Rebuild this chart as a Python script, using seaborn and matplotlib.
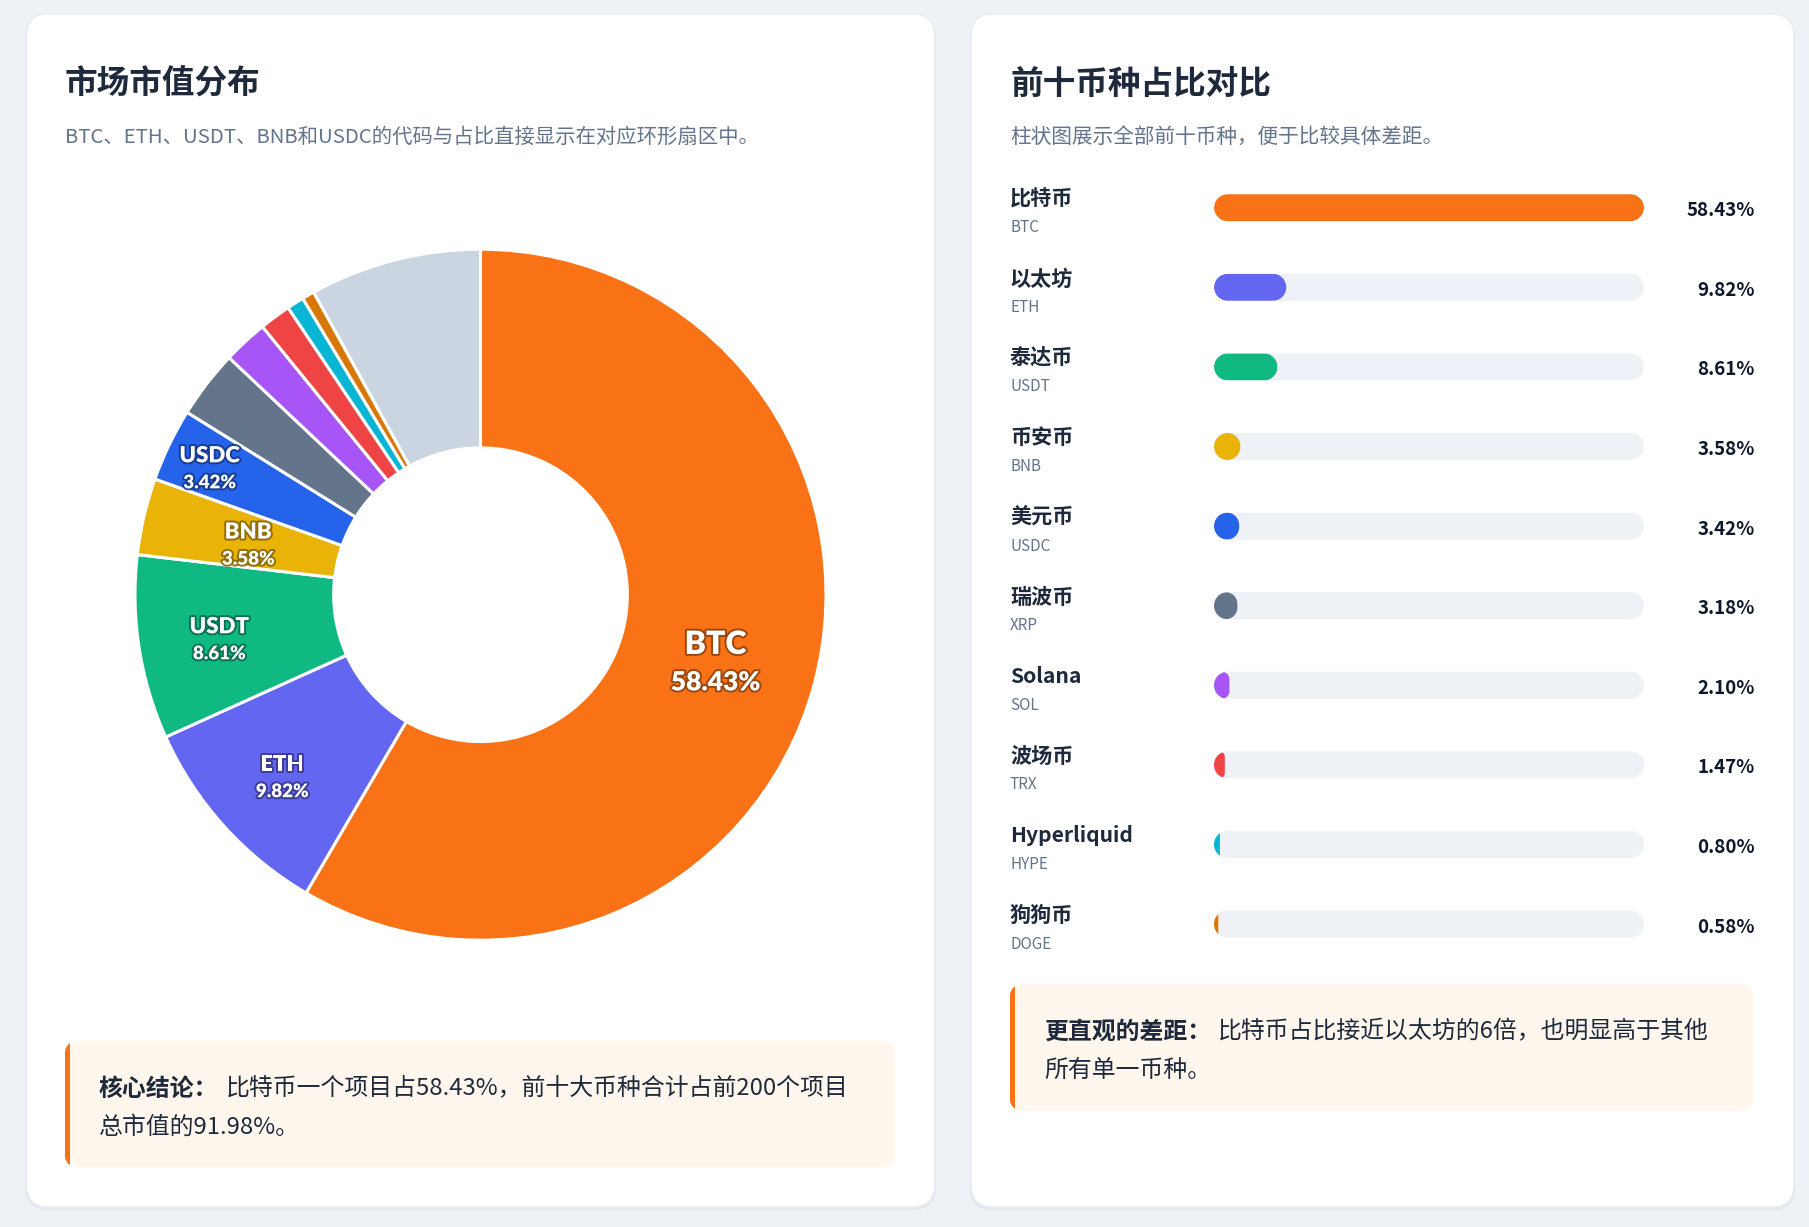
import numpy as np
import pandas as pd
import matplotlib
matplotlib.use("Agg")
import matplotlib.pyplot as plt
import seaborn as sns
from matplotlib.patches import FancyBboxPatch, Polygon, Rectangle
import matplotlib.patheffects as pe

# ---------------- data ----------------
names_cn = ["比特币", "以太坊", "泰达币", "币安币", "美元币", "瑞波币", "Solana", "波场币", "Hyperliquid", "狗狗币"]
codes = ["BTC", "ETH", "USDT", "BNB", "USDC", "XRP", "SOL", "TRX", "HYPE", "DOGE"]
shares = [58.43, 9.82, 8.61, 3.58, 3.42, 3.18, 2.10, 1.47, 0.80, 0.58]
top10_total = 91.98
other_code = "其他"
other_share = round(100 - top10_total, 2)
donut_labeled = ["BTC", "ETH", "USDT", "BNB", "USDC"]

colors = ["#f97316", "#6366f1", "#10b981", "#eab308", "#2563eb",
          "#64748b", "#a855f7", "#ef4444", "#06b6d4", "#d97706"]
other_color = "#cbd5e1"

left_title = "市场市值分布"
left_sub = "BTC、ETH、USDT、BNB和USDC的代码与占比直接显示在对应环形扇区中。"
right_title = "前十币种占比对比"
right_sub = "柱状图展示全部前十币种，便于比较具体差距。"
left_note = [[("核心结论：", "bold"), ("比特币一个项目占58.43%，前十大币种合计占前200个项目", "normal")],
             [("总市值的91.98%。", "normal")]]
right_note = [[("更直观的差距：", "bold"), ("比特币占比接近以太坊的6倍，也明显高于其他", "normal")],
              [("所有单一币种。", "normal")]]

# ---------------- style ----------------
sns.set_style("white")
plt.rcParams['font.family'] = ['Noto Sans CJK SC', 'DejaVu Sans']
LABEL_FONT = ['Lato', 'Open Sans', 'DejaVu Sans']

W, H = 1809, 1227
BG = "#eef1f6"
TITLE_C = "#1e293b"
SUB_C = "#64748b"
TRACK_C = "#eef2f7"

fig = plt.figure(figsize=(W / 100, H / 100), dpi=100, facecolor=BG)

def frac(x0, y0, x1, y1):
    return [x0 / W, 1 - y1 / H, (x1 - x0) / W, (y1 - y0) / H]

ax_bg = fig.add_axes([0, 0, 1, 1], zorder=0)
ax_bg.set_xlim(0, W)
ax_bg.set_ylim(H, 0)
ax_bg.axis("off")

def rbox(ax, x0, y0, x1, y1, r, fc, ec="none", lw=0, z=1):
    p = FancyBboxPatch((x0, y0), x1 - x0, y1 - y0,
                       boxstyle=f"round,pad=0,rounding_size={r}",
                       fc=fc, ec=ec, lw=lw, zorder=z)
    ax.add_patch(p)
    return p

# cards (with soft shadow)
for (x0, x1) in [(26.5, 934.5), (971, 1794)]:
    rbox(ax_bg, x0 - 1, 14 + 1, x1 + 1, 1207 + 3, 22, "#e3e8ef", z=0.5)
    rbox(ax_bg, x0, 14, x1, 1207, 22, "white", ec="#e6eaf0", lw=0.8, z=1)

# titles
ax_bg.text(65, 84, left_title, fontsize=23.5, fontweight="bold", color=TITLE_C, va="center", ha="left", zorder=3)
ax_bg.text(65, 137, left_sub, fontsize=14.7, color=SUB_C, va="center", ha="left", zorder=3)
ax_bg.text(1010, 84, right_title, fontsize=23.5, fontweight="bold", color=TITLE_C, va="center", ha="left", zorder=3)
ax_bg.text(1010, 137, right_sub, fontsize=14.9, color=SUB_C, va="center", ha="left", zorder=3)

renderer = fig.canvas.get_renderer()

def callout(x0, y0, x1, y1, tx, lines_y, lines):
    box = rbox(ax_bg, x0, y0, x1, y1, 15, "#fff7ed", z=2)
    bar = Rectangle((x0, y0), 5, y1 - y0, fc="#f97316", ec="none", zorder=2.5)
    ax_bg.add_patch(bar)
    bar.set_clip_path(box)
    for ly, parts in zip(lines_y, lines):
        x = tx
        for txt, wt in parts:
            t = ax_bg.text(x, ly, txt, fontsize=17.2, fontweight=wt, color=TITLE_C,
                           va="center", ha="left", zorder=3)
            bb = t.get_window_extent(renderer=renderer)
            x += bb.width + (7 if wt == "bold" else 0)

callout(64.6, 1040.7, 895, 1167.6, 99, [1089, 1127], left_note)
callout(1009.5, 984, 1753.6, 1111, 1044, [1032, 1070], right_note)

# ---------------- donut ----------------
cx, cy, R = 480.5, 594.7, 345.5
ax_pie = fig.add_axes(frac(cx - R, cy - R, cx + R, cy + R), zorder=2)
vals = shares + [other_share]
cols = colors + [other_color]
wedges, _ = ax_pie.pie(vals, colors=cols, startangle=90, counterclock=False, radius=1,
                       wedgeprops=dict(width=0.575, edgecolor="white", linewidth=2.2))
for w_ in wedges:
    w_.set_clip_on(False)
ax_pie.set_xlim(-1, 1)
ax_pie.set_ylim(-1, 1)
ax_pie.set_aspect("equal")
ax_pie.axis("off")

label_r = {"BTC": 0.705, "ETH": 0.772, "USDT": 0.765, "BNB": 0.69, "USDC": 0.87}
label_fs = {"BTC": (23, 19, 19.0), "ETH": (16, 13.5, 13.5), "USDT": (16, 13.5, 13.5),
            "BNB": (16, 13.5, 13.5), "USDC": (16, 13.5, 13.5)}
shift_px = -5

def darker(c, f=0.55):
    rgb = np.array(matplotlib.colors.to_rgb(c)) * f
    return tuple(rgb) + (0.85,)

for code in donut_labeled:
    i = codes.index(code)
    wdg = wedges[i]
    mid = np.deg2rad((wdg.theta1 + wdg.theta2) / 2)
    r = label_r[code]
    x, y = r * np.cos(mid), r * np.sin(mid)
    fs1, fs2, off = label_fs[code]
    eff = [pe.withStroke(linewidth=2.8, foreground=darker(colors[i]))]
    ax_pie.annotate(code, xy=(x, y), xytext=(0, (off + shift_px) * 0.72), textcoords="offset points",
                    ha="center", va="center", fontsize=fs1, fontweight="heavy", color="white",
                    family=LABEL_FONT, path_effects=eff, zorder=5)
    ax_pie.annotate(f"{shares[i]:.2f}%", xy=(x, y), xytext=(0, (-off + shift_px) * 0.72),
                    textcoords="offset points",
                    ha="center", va="center", fontsize=fs2, fontweight="heavy", color="white",
                    family=LABEL_FONT, path_effects=eff, zorder=5)

# ---------------- bars ----------------
row0, row_step = 207.7, 79.6
n = len(codes)
ax_bar = fig.add_axes(frac(1214, row0 - row_step / 2, 1644, row0 + row_step * (n - 0.5)), zorder=2)
df = pd.DataFrame({"code": codes, "share": shares, "track": [max(shares)] * n})
sns.barplot(data=df, y="code", x="track", color=TRACK_C, width=0.34, errorbar=None,
            saturation=1, ax=ax_bar)
sns.barplot(data=df, y="code", x="share", hue="code", palette=colors, width=0.34,
            errorbar=None, legend=False, saturation=1, ax=ax_bar)
ax_bar.set_xlim(0, max(shares))
ax_bar.set_ylim(n - 0.5, -0.5)
ax_bar.axis("off")

fig.canvas.draw()
bb = ax_bar.get_window_extent()
sx = bb.width / max(shares)
sy = bb.height / n

def rounded_poly(x0, yc, w, h):
    r_px = min(h * sy / 2, w * sx / 2)
    rx, ry = r_px / sx, r_px / sy
    y0, y1 = yc - h / 2, yc + h / 2
    x1 = x0 + w
    pts = []
    t = np.linspace(0, np.pi / 2, 16)
    for (ccx, ccy, a0) in [(x1 - rx, y1 - ry, 0), (x0 + rx, y1 - ry, np.pi / 2),
                           (x0 + rx, y0 + ry, np.pi), (x1 - rx, y0 + ry, 1.5 * np.pi)]:
        a = a0 + t
        pts.extend(zip(ccx + rx * np.cos(a), ccy + ry * np.sin(a)))
    return np.array(pts)

patches = list(ax_bar.patches)
tracks, fills = patches[:n], patches[n:2 * n]
for tp, fp in zip(tracks, fills):
    yc = tp.get_y() + tp.get_height() / 2
    h = abs(tp.get_height())
    tpoly = Polygon(rounded_poly(tp.get_x(), yc, tp.get_width(), h), closed=True,
                    fc=tp.get_facecolor(), ec="none", zorder=3)
    ax_bar.add_patch(tpoly)
    fpoly = Polygon(rounded_poly(fp.get_x(), yc, fp.get_width(), h), closed=True,
                    fc=fp.get_facecolor(), ec="none", zorder=4)
    ax_bar.add_patch(fpoly)
    fpoly.set_clip_path(tpoly)
    tp.set_visible(False)
    fp.set_visible(False)

for i in range(n):
    ax_bar.annotate(names_cn[i], xy=(1010, i), xycoords=("figure pixels", "data"),
                    xytext=(0, 8.5 * 0.72), textcoords="offset points", ha="left", va="center",
                    fontsize=15.2, fontweight="bold", color=TITLE_C, annotation_clip=False)
    ax_bar.annotate(codes[i], xy=(1010, i), xycoords=("figure pixels", "data"),
                    xytext=(0, -20 * 0.72), textcoords="offset points", ha="left", va="center",
                    fontsize=11, color=SUB_C, annotation_clip=False)
    ax_bar.annotate(f"{shares[i]:.2f}%", xy=(1755, i), xycoords=("figure pixels", "data"),
                    xytext=(0, -3 * 0.72), textcoords="offset points",
                    ha="right", va="center", fontsize=13.5, fontweight="bold", color="#0f172a",
                    annotation_clip=False)

fig.savefig("out.png", dpi=100, facecolor=BG)
